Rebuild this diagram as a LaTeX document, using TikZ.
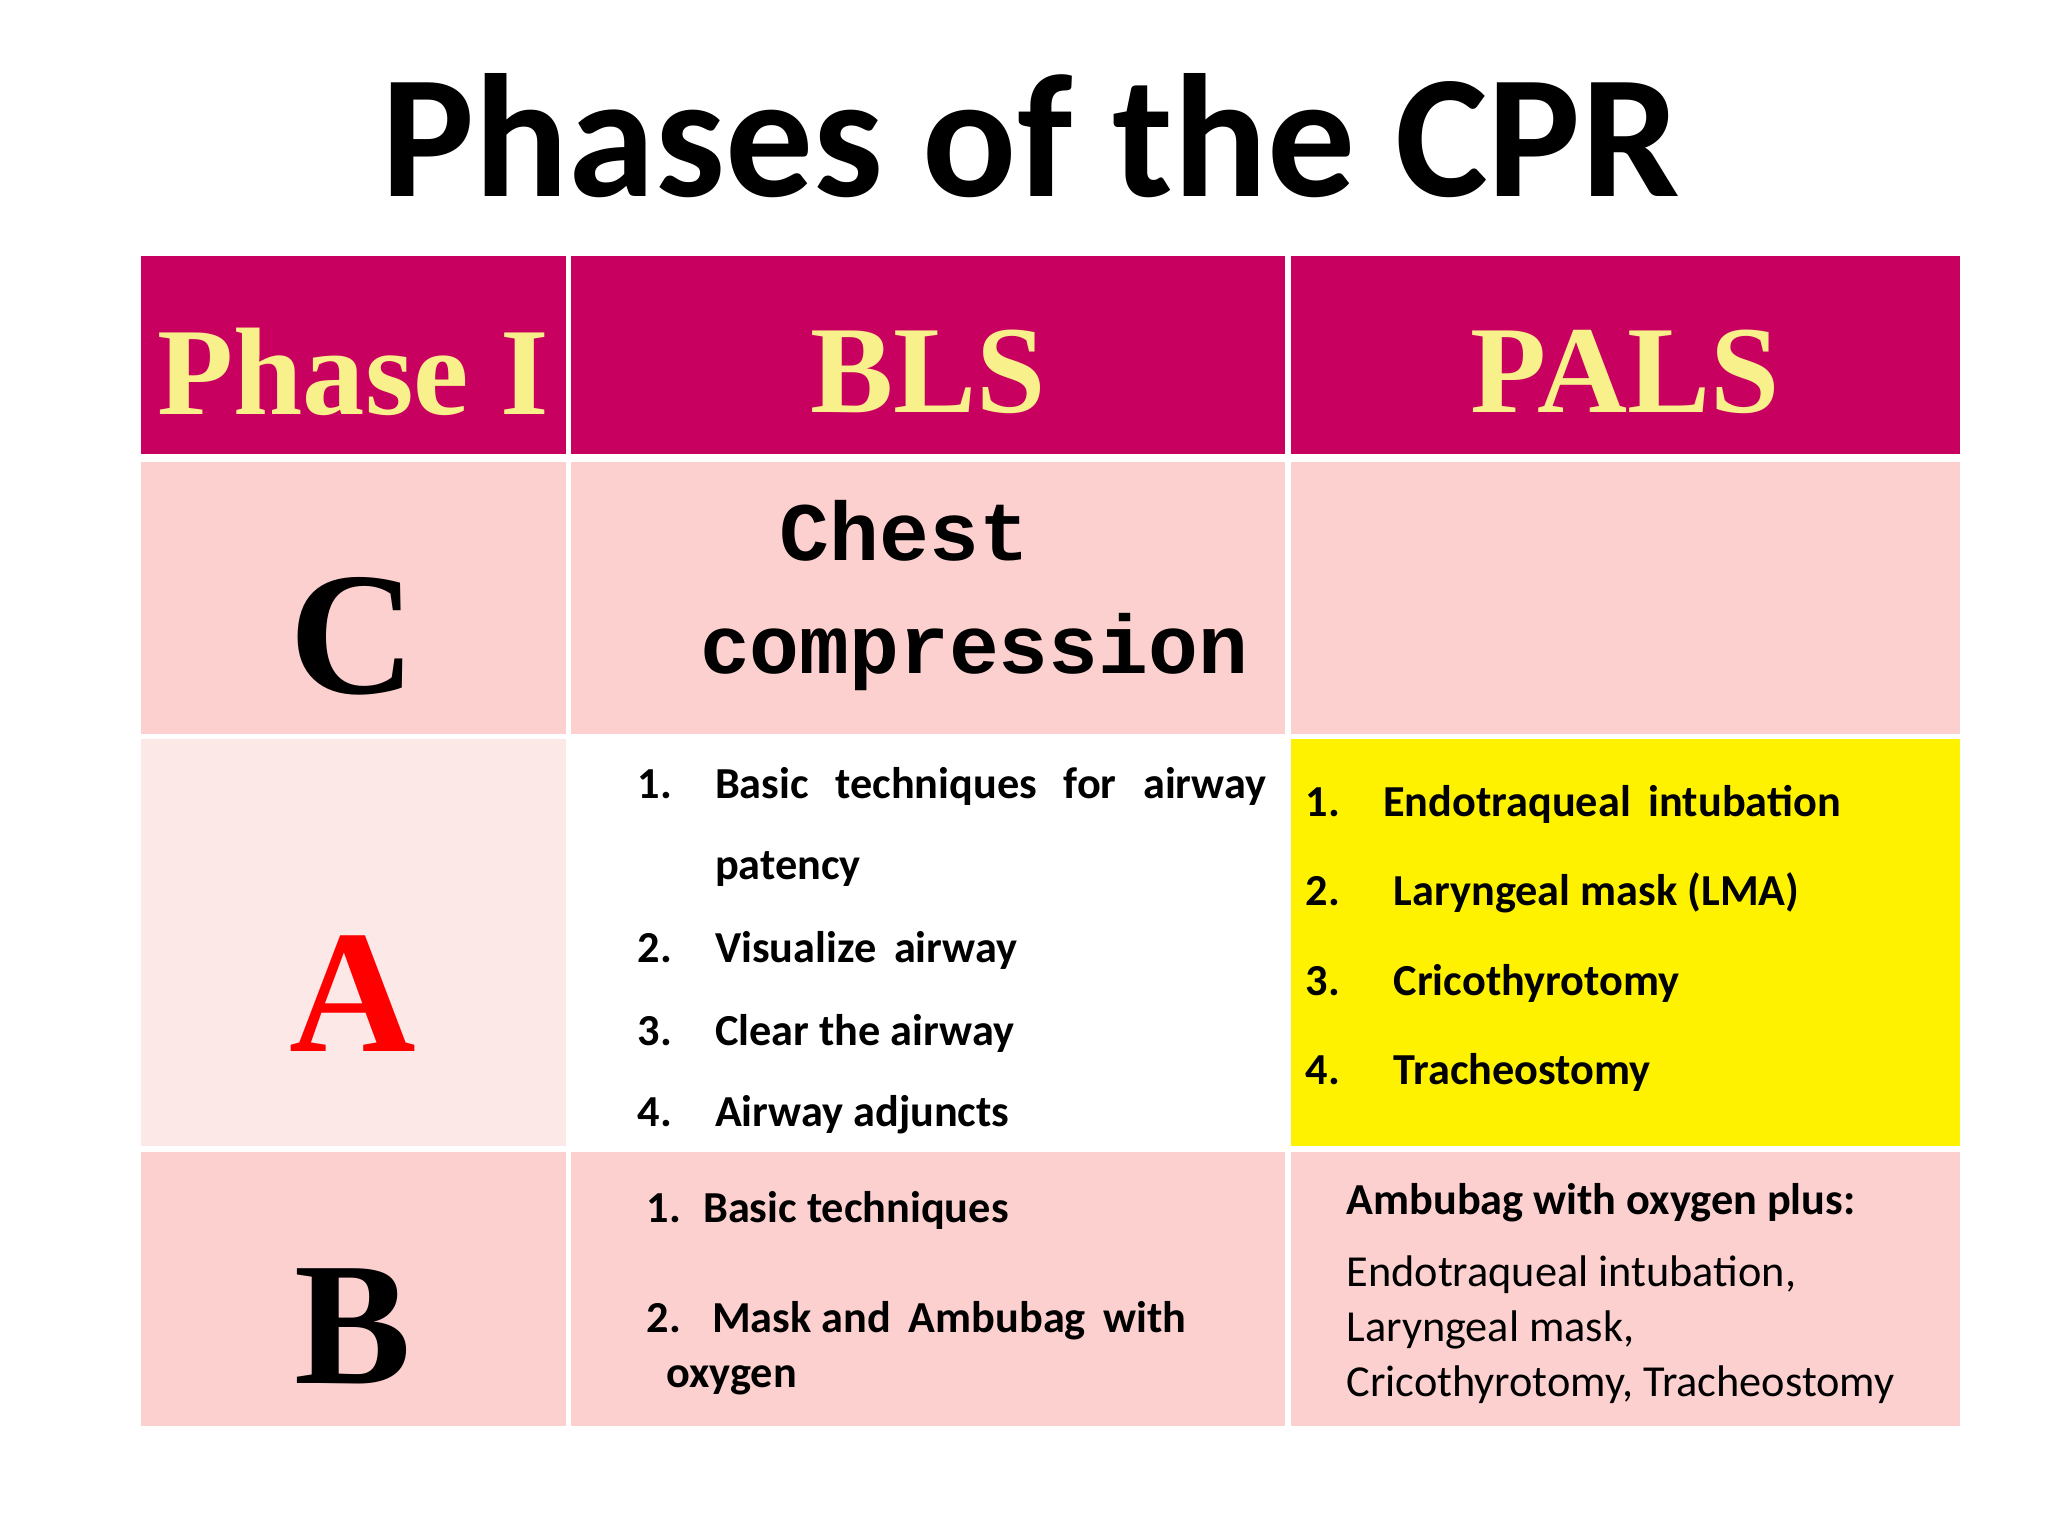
\documentclass[tikz,border=0pt]{standalone}
\usepackage{fontspec}
\setmainfont{Carlito}
\newfontfamily\serifb{Liberation Serif}
\newfontfamily\monob{Liberation Mono}
\begin{document}
\begin{tikzpicture}[x=0.1mm,y=-0.1mm,
  cell/.style={draw=white,line width=1.2pt},
  hd/.style={font=\serifb\bfseries\fontsize{27}{30}\selectfont,text=yellow!55!white!95!orange},
  big/.style={font=\serifb\bfseries\fontsize{38}{40}\selectfont},
  it/.style={anchor=base west,inner sep=0,font=\bfseries\fontsize{9.6}{11}\selectfont},
  rt/.style={anchor=base west,inner sep=0,font=\fontsize{9.6}{11}\selectfont}]
\definecolor{mag}{HTML}{C8005F}
\definecolor{pk}{HTML}{FDD0D0}
\definecolor{lpk}{HTML}{FDE8E8}
\definecolor{hy}{HTML}{F8F08A}
\useasboundingbox[fill=white] (0,0) rectangle (1560,1170);
\node (title) at (785,103) {\bfseries\fontsize{38}{40}\selectfont Phases of the CPR};
% header
\fill[mag,cell] (105,193) rectangle (433,348);
\fill[mag,cell] (433,193) rectangle (981,348);
\fill[mag,cell] (981,193) rectangle (1495,348);
\node[hd,text=hy] (h1) at (269,283) {Phase I};
\node[hd,text=hy] (h2) at (707,283) {BLS};
\node[hd,text=hy] (h3) at (1238,283) {PALS};
% C row
\fill[pk,cell] (105,350) rectangle (433,561);
\fill[pk,cell] (433,350) rectangle (981,561);
\fill[pk,cell] (981,350) rectangle (1495,561);
\node[big] (c) at (269,485) {C};
\node[font=\monob\bfseries\fontsize{18}{20}\selectfont] (ch) at (689,404) {Chest};
\node[font=\monob\bfseries\fontsize{18}{20}\selectfont] (co) at (742,497) {compression};
% A row
\fill[lpk,cell] (105,561) rectangle (433,875);
\fill[white] (433,561) rectangle (981,875);
\fill[yellow,cell] (981,561) rectangle (1495,875);
\node[big,text=red] (a) at (269,757) {A};
\node[it] (a1n) at (485,608) {1.};
\node[it] (a1) at (544,608) {Basic\hspace{0.6em}techniques\hspace{0.6em}for\hspace{0.6em}airway};
\node[it] (a1b) at (544,670) {patency};
\node[it] (a2n) at (485,733) {2.};
\node[it] (a2) at (544,733) {Visualize\hspace{0.4em}airway};
\node[it] (a3n) at (485,796) {3.};
\node[it] (a3) at (544,796) {Clear the airway};
\node[it] (a4n) at (485,858) {4.};
\node[it] (a4) at (544,858) {Airway adjuncts};
\node[it] (p1n) at (994,622) {1.};
\node[it] (p1) at (1053,622) {Endotraqueal\hspace{0.4em}intubation};
\node[it] (p2n) at (994,690) {2.};
\node[it] (p2) at (1061,690) {Laryngeal mask (LMA)};
\node[it] (p3n) at (994,758) {3.};
\node[it] (p3) at (1061,758) {Cricothyrotomy};
\node[it] (p4n) at (994,826) {4.};
\node[it] (p4) at (1061,826) {Tracheostomy};
% B row
\fill[pk,cell] (105,875) rectangle (433,1088);
\fill[pk,cell] (433,875) rectangle (981,1088);
\fill[pk,cell] (981,875) rectangle (1495,1088);
\node[big] (b) at (269,1010) {B};
\node[it] (b1) at (492,931) {1.\hspace{0.5em}Basic techniques};
\node[it] (b2) at (492,1015) {2.\hspace{0.7em}Mask and\hspace{0.4em}Ambubag\hspace{0.4em}with};
\node[it] (b2b) at (507,1057) {oxygen};
\node[it] (q1) at (1025,925) {Ambubag with oxygen plus:};
\node[rt] (q2) at (1025,980) {Endotraqueal intubation,};
\node[rt] (q3) at (1025,1022) {Laryngeal mask,};
\node[rt] (q4) at (1025,1064) {Cricothyrotomy, Tracheostomy};
\end{tikzpicture}
\end{document}
